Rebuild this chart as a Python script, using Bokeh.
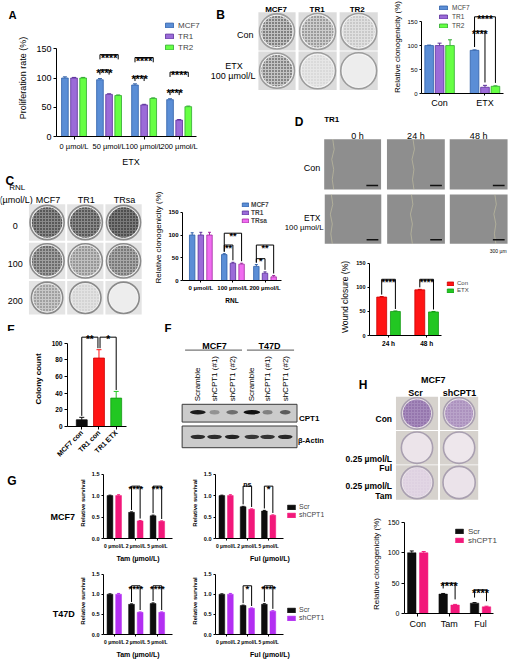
import math
from bokeh.plotting import figure
from bokeh.models import (Range1d, FixedTicker, Legend, LegendItem, Whisker, TeeHead,
                          ColumnDataSource, PrintfTickFormatter)
from bokeh.layouts import row, column
from bokeh.embed import file_html
from bokeh.resources import INLINE
from bokeh.core.properties import value

FONT = "Liberation Sans"
MU = "\u00b5"
KX = 510 / 520
KY = 660 / 670


def X(v):
    return int(round(v * KX))


def Y(v):
    return int(round(v * KY))


# ====================== DATA ======================
A_groups = [f"0 {MU}mol/L", f"50 {MU}mol/L", f"100 {MU}mol/L", f"200 {MU}mol/L"]
A_MCF7 = [100, 97, 88, 63]
A_TR1 = [100, 72, 54, 28]
A_TR2 = [100, 70, 65, 51]
A_MCF7_err = [2, 2, 2, 1.5]
A_TR1_err = [1, 1, 1, 1]
A_TR2_err = [1, 1, 1, 1]
A_sig = [(1, 0, 1, "****", 114), (1, 0, 2, "****", 140), (2, 0, 1, "****", 103),
         (2, 0, 2, "****", 135), (3, 0, 1, "****", 79), (3, 0, 2, "****", 110)]

B_groups = ["Con", "ETX"]
B_MCF7 = [100, 90]
B_TR1 = [100, 13]
B_TR2 = [100, 15]
B_MCF7_err = [1, 1]
B_TR1_err = [5, 4]
B_TR2_err = [12, 1]
B_sig = [(1, 0, 1, "****", 130), (1, 0, 2, "****", 160)]

C_groups = [f"0 {MU}mol/L", f"100 {MU}mol/L", f"200 {MU}mol/L"]
C_MCF7 = [100, 57, 31]
C_TR1 = [100, 38, 16]
C_TRsa = [100, 36, 8]
C_MCF7_err = [5, 2, 4]
C_TR1_err = [6, 2, 3]
C_TRsa_err = [6, 2, 3]
C_sig = [(1, 0, 1, "**", 78), (1, 0, 2, "**", 104), (2, 0, 1, "*", 48), (2, 0, 2, "**", 78)]

D_groups = ["24 h", "48 h"]
D_Con = [80, 95]
D_ETX = [50, 49]
D_Con_err = [1, 1]
D_ETX_err = [1, 1]
D_sig = [(0, 0, 1, "****", 117), (1, 0, 1, "****", 117)]

E_groups = ["MCF7 con", "TR1 con", "TR1 ETX"]
E_counts = [8, 82, 34]
E_err = [3, 10, 8]
E_sig = [(0, 1, "**", 107), (1, 2, "*", 107)]

F_lanes = ["Scramble", "shCPT1 (#1)", "shCPT1 (#2)", "Scramble", "shCPT1 (#1)", "shCPT1 (#2)"]
F_CPT1_band = [0.95, 0.30, 0.50, 1.00, 0.40, 0.60]
F_actin_band = [0.85, 0.85, 0.90, 0.80, 0.82, 0.88]

G_groups = [f"0 {MU}mol/L", f"2 {MU}mol/L", f"5 {MU}mol/L"]
G_MCF7_Tam_Scr = [1.00, 0.61, 0.53]
G_MCF7_Tam_sh = [1.00, 0.41, 0.40]
G_MCF7_Ful_Scr = [1.00, 0.74, 0.64]
G_MCF7_Ful_sh = [1.00, 0.68, 0.54]
G_T47D_Tam_Scr = [1.00, 0.75, 0.77]
G_T47D_Tam_sh = [1.00, 0.55, 0.55]
G_T47D_Ful_Scr = [1.00, 0.72, 0.75]
G_T47D_Ful_sh = [1.00, 0.65, 0.58]
G_Scr_err = [0.01, 0.01, 0.015]
G_sh_err = [0.02, 0.01, 0.01]
G_MCF7_Tam_sig = [(1, 0, 1, "****", 1.22), (2, 0, 1, "***", 1.22)]
G_MCF7_Ful_sig = [(1, 0, 1, "ns", 1.22), (2, 0, 1, "*", 1.22)]
G_T47D_Tam_sig = [(1, 0, 1, "****", 1.21), (2, 0, 1, "****", 1.21)]
G_T47D_Ful_sig = [(1, 0, 1, "*", 1.21), (2, 0, 1, "****", 1.21)]

H_groups = ["Con", "Tam", "Ful"]
H_Scr = [100, 32, 17]
H_sh = [100, 14, 11]
H_Scr_err = [3, 1, 1]
H_sh_err = [2, 1, 1]
H_sig = [(1, 0, 1, "****", 50), (2, 0, 1, "****", 39)]

# colours
C_BLUE, L_BLUE = "#5b8ed6", "#2f5fa8"
C_PURP, L_PURP = "#9b6bd8", "#5b2f9a"
C_LIME, L_LIME = "#66ff44", "#2fa82f"
C_MAG, L_MAG = "#f06cf0", "#a02aa0"
C_RED, L_RED = "#ff1414", "#cc0000"
C_GRN, L_GRN = "#22c722", "#129912"
C_BLK = "#0d0d0d"
C_PINK = "#f2187a"
C_VIOL = "#b32ff2"


# ====================== HELPERS ======================
def deco(box):
    x0, x1, y0, y1 = box
    p = figure(width=X(x1) - X(x0), height=Y(y1) - Y(y0),
               x_range=Range1d(x0, x1), y_range=Range1d(y1, y0),
               x_axis_location=None, y_axis_location=None, title_location=None,
               min_border=0, output_backend="svg", toolbar_location=None,
               frame_align=False)
    p.grid.visible = False
    p.outline_line_color = None
    p.background_fill_color = "white"
    p.border_fill_color = "white"
    return p


def T(p, x, y, s, size, bold=False, align="left", base="alphabetic", angle=0.0, color="black"):
    p.text(x=[x], y=[y], text=[s], text_font=value(FONT), text_font_size=f"{size}px",
           text_font_style="bold" if bold else "normal", text_align=align,
           text_baseline=base, angle=angle, text_color=color)


def chart_fig(box, frame, xr, yr):
    x0, x1, y0, y1 = box
    fx0, fx1, fy0, fy1 = frame
    p = figure(width=X(x1) - X(x0), height=Y(y1) - Y(y0),
               x_range=Range1d(*xr), y_range=Range1d(*yr),
               min_border_left=X(fx0) - X(x0), min_border_right=X(x1) - X(fx1),
               min_border_top=Y(fy0) - Y(y0), min_border_bottom=Y(y1) - Y(fy1),
               output_backend="svg", toolbar_location=None, title_location=None,
               frame_align=False)
    p.outline_line_color = None
    p.grid.visible = False
    p.background_fill_color = "white"
    p.border_fill_color = "white"
    for ax in (p.xaxis[0], p.yaxis[0]):
        ax.axis_line_color = "black"
        ax.axis_line_width = 1
        ax.major_tick_line_color = "black"
        ax.major_tick_line_width = 1
        ax.minor_tick_line_color = None
        ax.major_tick_in = 0
        ax.major_tick_out = 3
        ax.major_label_text_font = FONT
        ax.axis_label_text_font = FONT
        ax.major_label_text_color = "black"
        ax.axis_label_text_color = "black"
        ax.axis_label_text_font_style = "normal"
    ppx = (X(fx1) - X(fx0)) / (xr[1] - xr[0])
    ppy = (Y(fy1) - Y(fy0)) / (yr[1] - yr[0])
    return p, ppx, ppy


def axes(p, groups, yticks, ybounds, xfont, yfont, ylabel, ylfont, xlabel=None, xlfont=9,
         xbold=False, ybold=False, ylbold=False, xlbold=False, xbounds=None, yfmt=None,
         xorient=None, tick_out=3, ylstand=4):
    xa, ya = p.xaxis[0], p.yaxis[0]
    xt = [i + 0.5 for i in range(len(groups))]
    xa.ticker = FixedTicker(ticks=xt, minor_ticks=[])
    xa.major_label_overrides = {t: g for t, g in zip(xt, groups)}
    xa.major_label_text_font_size = f"{xfont}px"
    xa.major_label_text_font_style = "bold" if xbold else "normal"
    xa.major_label_standoff = 2
    xa.major_tick_out = tick_out
    if xorient is not None:
        xa.major_label_orientation = xorient
    if xbounds is not None:
        xa.bounds = xbounds
    if xlabel:
        xa.axis_label = xlabel
        xa.axis_label_text_font_size = f"{xlfont}px"
        xa.axis_label_text_font_style = "bold" if xlbold else "normal"
        xa.axis_label_standoff = 3
    ya.ticker = FixedTicker(ticks=yticks, minor_ticks=[])
    ya.bounds = ybounds
    ya.major_tick_out = tick_out
    ya.major_label_text_font_size = f"{yfont}px"
    ya.major_label_text_font_style = "bold" if ybold else "normal"
    ya.major_label_standoff = 2
    if yfmt:
        ya.formatter = PrintfTickFormatter(format=yfmt)
    ya.axis_label = ylabel
    ya.axis_label_text_font_size = f"{ylfont}px"
    ya.axis_label_text_font_style = "bold" if ylbold else "normal"
    ya.axis_label_standoff = ylstand


def draw_bars(p, n, series, offsets, bar_w, cap=4, lw=0.8):
    rs = []
    for k, (name, vals, errs, fill, line) in enumerate(series):
        xs = [i + 0.5 + offsets[k] for i in range(n)]
        src = ColumnDataSource(dict(x=xs, lo=vals, hi=[v + e for v, e in zip(vals, errs)]))
        p.add_layout(Whisker(source=src, base="x", lower="lo", upper="hi", dimension="height",
                             line_color=line, line_width=1,
                             upper_head=TeeHead(size=cap, line_color=line, line_width=1),
                             lower_head=None))
        r = p.vbar(x=xs, top=vals, width=bar_w, bottom=0, fill_color=fill,
                   line_color=line, line_width=lw)
        rs.append(r)
    return rs


def draw_sig(p, sigs, offsets, series, ppy, mode="bar", gap=2, font=10, short=5):
    xs, ys = [], []
    for g, i, j, lab, lev in sigs:
        xa = g + 0.5 + offsets[i]
        xb = g + 0.5 + offsets[j]
        if mode == "short":
            ya = yb = lev - short / ppy
        else:
            ya = series[i][1][g] + series[i][2][g] + gap / ppy
            yb = series[j][1][g] + series[j][2][g] + gap / ppy
        xs.append([xa, xa, xb, xb])
        ys.append([ya, lev, lev, yb])
        star = "*" in lab
        p.text(x=[(xa + xb) / 2], y=[lev], text=[lab], text_font=value(FONT),
               text_font_size=f"{font if star else font * 0.75}px", text_font_style="bold",
               text_align="center", text_baseline="alphabetic",
               y_offset=(font * 0.3 if star else -1.5))
    p.multi_line(xs=xs, ys=ys, line_color="black", line_width=1)


def add_legend(p, items, frame, left, top, font, gw, gh, spacing, bold=False, standoff=4):
    fx0, fx1, fy0, fy1 = frame
    lh = max(gh, font * 1.37)
    n = len(items)
    H = n * lh + (n - 1) * spacing
    lx = X(left) - X(fx0)
    ly = (Y(fy1) - Y(top)) - H
    leg = Legend(items=[LegendItem(label=value(l), renderers=[r]) for l, r in items],
                 location=(lx, ly), orientation="vertical", glyph_width=gw, glyph_height=gh,
                 label_standoff=standoff, label_text_font=FONT, label_text_font_size=f"{font}px",
                 label_text_font_style="bold" if bold else "normal", label_height=gh,
                 spacing=spacing, padding=0, margin=0, border_line_color=None,
                 background_fill_alpha=0)
    p.add_layout(leg)


def dish(p, x0, x1, y0, y1, fill, dots, bg="#dcdcdc", rim="#9c9c9c", inner="#f4f4f4",
         hcolor="black"):
    cx, cy = (x0 + x1) / 2, (y0 + y1) / 2
    w, h = x1 - x0, y1 - y0
    d = min(w, h)
    p.rect(x=[cx], y=[cy], width=[w], height=[h], fill_color=bg, line_color=None)
    p.ellipse(x=[cx], y=[cy], width=[d * 0.94], height=[d * 0.94], fill_color=inner,
              line_color=rim, line_width=1.6)
    kw = {}
    if dots > 0:
        kw = dict(hatch_pattern="dot", hatch_color=hcolor, hatch_alpha=dots,
                  hatch_scale=3.0, hatch_weight=1.1)
    p.ellipse(x=[cx], y=[cy], width=[d * 0.84], height=[d * 0.84], fill_color=fill,
              line_color=None, **kw)


def dphoto(p, x0, x1, y0, y1, lines):
    p.rect(x=[(x0 + x1) / 2], y=[(y0 + y1) / 2], width=[x1 - x0], height=[y1 - y0],
           fill_color="#8e8e8e", line_color=None)
    for fx in lines:
        xb = x0 + fx * (x1 - x0)
        yy = [y0 + k * (y1 - y0) / 5 for k in range(6)]
        p.line(x=[xb, xb + 1.5, xb - 1, xb + 1, xb - 0.5, xb + 1], y=yy,
               line_color="#d2cda6", line_width=1, line_alpha=0.5)
    p.line(x=[x1 - 15, x1 - 3], y=[y1 - 4, y1 - 4], line_color="#111111", line_width=1.5)


# ====================== A ======================
Astrip = deco((0, 212, 0, 19))
T(Astrip, 8, 15, "A", 12, bold=True)

A_box, A_frame = (0, 212, 19, 172), (57, 209, 19, 143)
uA = (200 - 57) / len(A_groups)
pA, ppxA, ppyA = chart_fig(A_box, A_frame, (0, (209 - 57) / uA), (0, 150 * (143 - 19) / (143 - 50)))
A_ser = [("MCF7", A_MCF7, A_MCF7_err, C_BLUE, L_BLUE),
         ("TR1", A_TR1, A_TR1_err, C_PURP, L_PURP),
         ("TR2", A_TR2, A_TR2_err, C_LIME, L_LIME)]
offA = [-0.26, 0.0, 0.26]
rA = draw_bars(pA, len(A_groups), A_ser, offA, 0.19, cap=4)
axes(pA, A_groups, [0, 50, 100, 150], (0, 150), 7.5, 9, "Proliferation rate (%)", 9,
     xlabel="ETX", xlfont=9, ylstand=5, xbounds=(0, len(A_groups)))
draw_sig(pA, A_sig, offA, A_ser, ppyA, mode="short", font=10.5)
add_legend(pA, [(s[0], r) for s, r in zip(A_ser, rA)], A_frame, 167, 20, 8, 10, 6, 2)

Chead = deco((0, 212, 172, 194))
T(Chead, 5, 183, "C", 12, bold=True)
T(Chead, 17, 189.5, "RNL", 8, align="center")

# ====================== B ======================
Bphoto = deco((212, 398, 0, 112))
T(Bphoto, 220, 14.5, "B", 12, bold=True)
for cx, lab in zip([281, 323, 364], ["MCF7", "TR1", "TR2"]):
    T(Bphoto, cx, 9, lab, 8, bold=True, align="center")
T(Bphoto, 258, 35, "Con", 9, align="right")
T(Bphoto, 238, 66.5, "ETX", 9, align="center")
T(Bphoto, 260, 76.5, f"100 {MU}mol/L", 9, align="right")
B_cols = [(263, 301), (304, 343), (346, 385)]
B_rows = [(12, 51), (52, 91)]
B_shade = [[("#c2c2c2", 0.85), ("#cdcdcd", 0.6), ("#e0e0e0", 0.25)],
           [("#c4c4c4", 0.8), ("#e6e6e6", 0.12), ("#ededed", 0.0)]]
for ri, (ry0, ry1) in enumerate(B_rows):
    for ci, (cx0, cx1) in enumerate(B_cols):
        f, d = B_shade[ri][ci]
        dish(Bphoto, cx0, cx1, ry0, ry1, f, d)

B_box, B_frame = (398, 520, 0, 112), (420, 513, 0, 97)
uB = 51.5
pB, ppxB, ppyB = chart_fig(B_box, B_frame, (0.5 - 20.5 / uB, 1.5 + 21 / uB), (0, 150 * 97 / 75))
B_ser = [("MCF7", B_MCF7, B_MCF7_err, C_BLUE, L_BLUE),
         ("TR1", B_TR1, B_TR1_err, C_PURP, L_PURP),
         ("TR2", B_TR2, B_TR2_err, C_LIME, L_LIME)]
offB = [-0.23, 0.0, 0.23]
rB = draw_bars(pB, len(B_groups), B_ser, offB, 0.19, cap=4)
axes(pB, B_groups, [0, 50, 100, 150], (0, 150), 9, 6, "Relative clonogenicity (%)", 8,
     ylstand=2, tick_out=2)
draw_sig(pB, B_sig, offB, B_ser, ppyB, mode="bar", gap=3, font=10)
add_legend(pB, [(s[0], r) for s, r in zip(B_ser, rB)], B_frame, 437, 1.5, 6.5, 10, 5, 2)

# ====================== D (photos) ======================
D_cols = [(330, 388), (394, 453), (458, 517)]
D_lines = [[[0.15], [0.45], []], [[0.12], [0.42], [0.78]]]
Dtop = deco((212, 520, 112, 194))
T(Dtop, 300, 124, "D", 12, bold=True)
T(Dtop, 330, 121, "TR1", 8, bold=True)
for (cx0, cx1), lab in zip(D_cols, ["0 h", "24 h", "48 h"]):
    T(Dtop, (cx0 + cx1) / 2 + (5 if lab == "0 h" else 0), 137.5, lab, 9, align="center")
T(Dtop, 326, 170.5, "Con", 9, align="right")
for ci, (cx0, cx1) in enumerate(D_cols):
    dphoto(Dtop, cx0, cx1, 141, 192, D_lines[0][ci])

Dp2 = deco((330, 520, 194, 258))
for ci, (cx0, cx1) in enumerate(D_cols):
    dphoto(Dp2, cx0, cx1, 197, 247, D_lines[1][ci])
T(Dp2, 516, 254, f"300 {MU}m", 5, align="right")

DL2 = deco((288, 330, 194, 322))
T(DL2, 326, 221, "ETX", 8.5, align="right")
T(DL2, 329, 231, f"100 {MU}mol/L", 7.8, align="right")

# ====================== C ======================
Cbody = deco((0, 154, 194, 322))
T(Cbody, 16, 203, f"({MU}mol/L)", 9, align="center")
C_cols = [(29, 66), (68, 105), (107, 144)]
C_rows = [(207, 244), (246, 283), (285, 319)]
for (cx0, cx1), lab in zip(C_cols, ["MCF7", "TR1", "TRsa"]):
    T(Cbody, (cx0 + cx1) / 2 + 1, 203, lab, 9, align="center")
for (ry0, ry1), lab in zip(C_rows, ["0", "100", "200"]):
    T(Cbody, 15, (ry0 + ry1) / 2 + 3.5, lab, 9, align="center")
C_shade = [[("#8a8a8a", 0.9), ("#8a8a8a", 0.9), ("#7a7a7a", 0.9)],
           [("#a0a0a0", 0.8), ("#c0c0c0", 0.55), ("#a8a8a8", 0.7)],
           [("#c8c8c8", 0.5), ("#e2e2e2", 0.15), ("#ededed", 0.0)]]
for ri, (ry0, ry1) in enumerate(C_rows):
    for ci, (cx0, cx1) in enumerate(C_cols):
        f, d = C_shade[ri][ci]
        dish(Cbody, cx0, cx1, ry0, ry1, f, d, bg="#e4e4e4", rim="#8a8a8a")

C_box, C_frame = (154, 288, 194, 322), (179, 287, 197, 284)
uC = 35.0
pC, ppxC, ppyC = chart_fig(C_box, C_frame, (0.5 - 20 / uC, 2.5 + 18 / uC), (0, 150 * (284 - 197) / (284 - 215)))
C_ser = [("MCF7", C_MCF7, C_MCF7_err, C_BLUE, L_BLUE),
         ("TR1", C_TR1, C_TR1_err, C_PURP, L_PURP),
         ("TRsa", C_TRsa, C_TRsa_err, C_MAG, L_MAG)]
offC = [-0.27, 0.0, 0.27]
rC = draw_bars(pC, len(C_groups), C_ser, offC, 0.17, cap=3)
axes(pC, C_groups, [0, 50, 100, 150], (0, 150), 6, 6, "Relative clonogenicity (%)", 8,
     xlabel="RNL", xlfont=6.5, xbold=True, ybold=True, xlbold=True, ylstand=2, tick_out=2)
draw_sig(pC, C_sig, offC, C_ser, ppyC, mode="bar", gap=2, font=9)
add_legend(pC, [(s[0], r) for s, r in zip(C_ser, rC)], C_frame, 240, 197.5, 6.5, 8, 5, 1, bold=True, standoff=2)

# ====================== D chart ======================
D_box, D_frame = (330, 520, 258, 366), (376, 505, 262, 340)
uD = 39.0
pD, ppxD, ppyD = chart_fig(D_box, D_frame, (0, (505 - 376) / uD), (0, 150 * (340 - 262) / (340 - 267)))
D_ser = [("Con", D_Con, D_Con_err, C_RED, L_RED),
         ("ETX", D_ETX, D_ETX_err, C_GRN, L_GRN)]
offD = [-0.18, 0.18]
rD = draw_bars(pD, len(D_groups), D_ser, offD, 0.26, cap=4)
axes(pD, D_groups, [0, 50, 100, 150], (0, 150), 6.5, 5.5, "Wound closure (%)", 8.5,
     xbold=True, ybold=True, xbounds=(0, 1.9), ylstand=3, tick_out=2)
draw_sig(pD, D_sig, offD, D_ser, ppyD, mode="bar", gap=2, font=9)
add_legend(pD, [(s[0], r) for s, r in zip(D_ser, rD)], D_frame, 455, 280.5, 6, 8, 5, 1, standoff=3)

# ====================== E ======================
Estrip = deco((0, 165, 322, 336))
T(Estrip, 7, 333, "E", 11.5, bold=True)
E_box, E_frame = (0, 165, 336, 470), (68, 130, 336, 435)
uE = 17.5
aE = 0.5 - 14.5 / uE
pE, ppxE, ppyE = chart_fig(E_box, E_frame, (aE, aE + (130 - 68) / uE), (0, 100 * (435 - 336) / (435 - 348)))
E_cols = [C_BLK, C_RED, C_GRN]
E_lines = [C_BLK, L_RED, L_GRN]
for i in range(len(E_groups)):
    src = ColumnDataSource(dict(x=[i + 0.5], lo=[E_counts[i]], hi=[E_counts[i] + E_err[i]]))
    pE.add_layout(Whisker(source=src, base="x", lower="lo", upper="hi", dimension="height",
                          line_color=E_cols[i], line_width=1,
                          upper_head=TeeHead(size=5, line_color=E_cols[i], line_width=1),
                          lower_head=None))
pE.vbar(x=[i + 0.5 for i in range(len(E_groups))], top=E_counts, width=0.63, bottom=0,
        fill_color=E_cols, line_color=E_lines, line_width=0.8)
axes(pE, E_groups, [0, 20, 40, 60, 80, 100], (0, 100), 7, 6.5, "Colony count", 8,
     xbold=True, ybold=True, ylbold=True, xorient=math.pi / 4, xbounds=(aE, 3.1), ylstand=6)
exs, eys = [], []
for ga, gb, lab, lev in E_sig:
    xa = ga + 0.5 + (0.06 if ga == 1 else 0)
    xb = gb + 0.5 - (0.06 if gb == 1 else 0)
    ya = E_counts[ga] + E_err[ga] + 1.5 / ppyE
    yb = E_counts[gb] + E_err[gb] + 1.5 / ppyE
    exs.append([xa, xa, xb, xb])
    eys.append([ya, lev, lev, yb])
    pE.text(x=[(xa + xb) / 2], y=[lev], text=[lab], text_font=value(FONT), text_font_size="10px",
            text_font_style="bold", text_align="center", text_baseline="alphabetic", y_offset=2.5)
pE.multi_line(xs=exs, ys=eys, line_color="black", line_width=1)

# ====================== F ======================
Fp = deco((165, 330, 322, 470))
T(Fp, 167, 333, "F", 11.5, bold=True)
T(Fp, 218, 350.5, "MCF7", 9, bold=True, align="center")
T(Fp, 274, 351, "T47D", 9, bold=True, align="center")
Fp.line(x=[188, 246], y=[355, 355], line_color="#777777", line_width=1.2)
Fp.line(x=[251, 299], y=[355, 355], line_color="#777777", line_width=1.2)
F_x = [201, 218, 236, 256, 272, 290]
F_w = [16, 10, 12, 17, 10, 11]
for xx, lab in zip(F_x, F_lanes):
    T(Fp, xx, 407, lab, 8, align="left", base="middle", angle=math.pi / 2)
for (by0, by1) in [(410, 428), (432, 454)]:
    Fp.rect(x=[243.5], y=[(by0 + by1) / 2], width=[117], height=[by1 - by0],
            fill_color="#cbcbcb", line_color="#3a3a3a", line_width=1)
Fp.ellipse(x=F_x, y=[418] * 6, width=F_w, height=[4.5] * 6, fill_color="#111111",
           fill_alpha=F_CPT1_band, line_color=None)
Fp.ellipse(x=F_x, y=[443] * 6, width=[15] * 6, height=[4.5] * 6, fill_color="#111111",
           fill_alpha=F_actin_band, line_color=None)
T(Fp, 304, 424, "CPT1", 8, bold=True)
T(Fp, 303, 447, "\u03b2-Actin", 7.5, bold=True)


# ====================== G ======================
def g_chart(box, frame, vals_scr, vals_sh, sig, shcol, xlabel, legend=None):
    fx0, fx1, fy0, fy1 = frame
    u = 22.8
    p, ppx, ppy = chart_fig(box, frame, (0, (fx1 - fx0) / u), (0, 1.5 + 7 / ((fy1 - fy0 - 7) / 1.5)))
    ser = [("Scr", vals_scr, G_Scr_err, C_BLK, C_BLK), ("shCPT1", vals_sh, G_sh_err, shcol, shcol)]
    off = [-0.2, 0.2]
    rs = draw_bars(p, len(G_groups), ser, off, 0.27, cap=3, lw=0.5)
    axes(p, G_groups, [0, 0.5, 1.0, 1.5], (0, 1.5), 5, 5.5, "Relative survival", 6,
         xlabel=xlabel, xlfont=7, xbold=True, ybold=True, ylbold=True, xlbold=True,
         xbounds=(0, 3.2), yfmt="%.1f", ylstand=3, tick_out=2)
    draw_sig(p, sig, off, ser, ppy, mode="bar", gap=2, font=9.5)
    if legend is not None:
        add_legend(p, [(s[0], r) for s, r in zip(ser, rs)], frame, legend[0], legend[1], 7, 10, 6, 1, standoff=3)
    return p


Glab1 = deco((0, 78, 470, 573))
T(Glab1, 7, 488, "G", 12, bold=True)
T(Glab1, 64, 525, "MCF7", 9, bold=True, align="center")
Glab2 = deco((0, 78, 573, 670))
T(Glab2, 65, 623, "T47D", 9, bold=True, align="center")
G1 = g_chart((78, 192, 470, 573), (102, 175, 474, 549), G_MCF7_Tam_Scr, G_MCF7_Tam_sh,
             G_MCF7_Tam_sig, C_PINK, f"Tam ({MU}mol/L)")
G2 = g_chart((192, 330, 470, 573), (213, 330, 474, 549), G_MCF7_Ful_Scr, G_MCF7_Ful_sh,
             G_MCF7_Ful_sig, C_PINK, f"Ful ({MU}mol/L)", legend=(286, 509))
G3 = g_chart((78, 192, 573, 670), (102, 175, 576, 647), G_T47D_Tam_Scr, G_T47D_Tam_sh,
             G_T47D_Tam_sig, C_VIOL, f"Tam ({MU}mol/L)")
G4 = g_chart((192, 330, 573, 670), (213, 330, 576, 647), G_T47D_Ful_Scr, G_T47D_Ful_sh,
             G_T47D_Ful_sig, C_VIOL, f"Ful ({MU}mol/L)", legend=(286, 613))

# ====================== H ======================
Hp = deco((330, 520, 366, 515))
T(Hp, 365, 390, "H", 12, bold=True)
T(Hp, 441, 384.5, "MCF7", 9, bold=True, align="center")
T(Hp, 423, 398.5, "Scr", 9, bold=True, align="center")
T(Hp, 468, 398.5, "shCPT1", 9, bold=True, align="center")
T(Hp, 399, 425, "Con", 8.5, bold=True, align="right")
T(Hp, 399, 465, f"0.25 {MU}mol/L", 8.5, bold=True, align="right")
T(Hp, 399, 475, "Ful", 8.5, bold=True, align="right")
T(Hp, 399, 493, f"0.25 {MU}mol/L", 8.5, bold=True, align="right")
T(Hp, 399, 503, "Tam", 8.5, bold=True, align="right")
H_rows = [(402, 436), (437, 471), (472, 507)]
H_cols = [(403, 446), (448, 487)]
H_shade = [[("#a58abb", 0.55), ("#b9a3c9", 0.35)],
           [("#ece4ea", 0.0), ("#eee7ec", 0.0)],
           [("#e2d6e4", 0.08), ("#ebe3ea", 0.0)]]
for ri, (ry0, ry1) in enumerate(H_rows):
    for ci, (cx0, cx1) in enumerate(H_cols):
        f, d = H_shade[ri][ci]
        dish(Hp, cx0, cx1, ry0, ry1, f, d, bg="#d6d2cd", rim="#a99fb0", inner="#ece6ea",
             hcolor="#5a2a78")

H_box, H_frame = (330, 520, 515, 670), (412, 517, 522, 622)
uH = 32.0
aH = 0.5 - 13.5 / uH
pH, ppxH, ppyH = chart_fig(H_box, H_frame, (aH, aH + (517 - 412) / uH), (0, 150 * (622 - 522) / (622 - 530)))
H_ser = [("Scr", H_Scr, H_Scr_err, C_BLK, C_BLK), ("shCPT1", H_sh, H_sh_err, C_PINK, C_PINK)]
offH = [-0.19, 0.19]
rH = draw_bars(pH, len(H_groups), H_ser, offH, 0.27, cap=4, lw=0.5)
axes(pH, H_groups, [0, 50, 100, 150], (0, 150), 9, 7, "Relative clonogenicity (%)", 8,
     ylstand=4, xbounds=(aH, 2.5 + 13.5 / uH))
draw_sig(pH, H_sig, offH, H_ser, ppyH, mode="bar", gap=5, font=11)
add_legend(pH, [(s[0], r) for s, r in zip(H_ser, rH)], H_frame, 463, 530.5, 8, 10, 6, 0)

# ====================== LAYOUT ======================
top = row(column(Astrip, pA, Chead), column(row(Bphoto, pB), Dtop))
left_mid = column(row(Cbody, pC, DL2),
                  row(column(Estrip, pE), Fp),
                  row(Glab1, G1, G2),
                  row(Glab2, G3, G4))
right_mid = column(Dp2, pD, Hp, pH)
root = column(top, row(left_mid, right_mid))

open("out.html", "w").write(file_html(root, INLINE))
